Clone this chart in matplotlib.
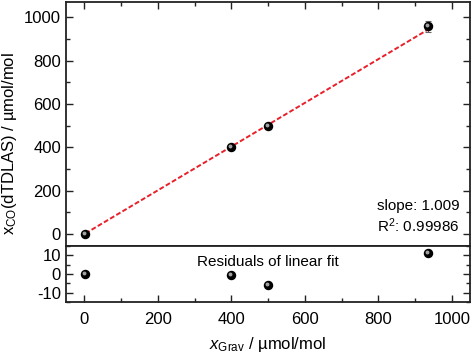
import matplotlib
matplotlib.use("Agg")
import matplotlib.pyplot as plt
import numpy as np
from matplotlib.ticker import MultipleLocator

plt.rcParams['font.family'] = ['Liberation Sans', 'DejaVu Sans']
plt.rcParams['mathtext.fontset'] = 'custom'
plt.rcParams['mathtext.rm'] = 'Liberation Sans'
plt.rcParams['mathtext.it'] = 'Liberation Sans:italic'
plt.rcParams['axes.unicode_minus'] = False

# data
x_grav = [3, 400, 500, 935]
x_tdlas = [2, 403, 500, 958]
y_err = [0, 0, 0, 26]
residuals = [0, -0.3, -5.8, 11.5]
slope = 1.009
intercept = 0.0
fit_x = [3, 935]

fig = plt.figure(figsize=(4.74, 3.55), dpi=100)
ax = fig.add_axes([0.139, 0.307, 0.853, 0.688])
axr = fig.add_axes([0.139, 0.149, 0.853, 0.158], sharex=ax)

fit_y = [slope * v + intercept for v in fit_x]
ax.plot(fit_x, fit_y, color='#e8202a', ls=(0, (2.5, 1.2)), lw=1.4, zorder=2)
ax.errorbar(x_grav, x_tdlas, yerr=y_err, fmt='none', ecolor='#666666',
            elinewidth=0.8, capsize=2.5, capthick=0.8, zorder=3)
ax.plot(x_grav, x_tdlas, 'o', color='black', ms=5.8, zorder=4)
ax.plot(np.array(x_grav) - 3, np.array(x_tdlas) + 5, 'o', color='#a0a0a0', ms=1.8, zorder=5)

axr.plot(x_grav, residuals, 'o', color='black', ms=5.8, zorder=4)
axr.plot(np.array(x_grav) - 3, np.array(residuals) + 0.5, 'o', color='#a0a0a0', ms=1.8, zorder=5)

ax.set_xlim(-50, 1050)
ax.set_ylim(-55, 1072)
axr.set_ylim(-15, 15)

ax.yaxis.set_major_locator(MultipleLocator(200))
ax.yaxis.set_minor_locator(MultipleLocator(100))
ax.xaxis.set_major_locator(MultipleLocator(200))
ax.xaxis.set_minor_locator(MultipleLocator(100))
axr.yaxis.set_major_locator(MultipleLocator(10))
axr.yaxis.set_minor_locator(MultipleLocator(5))

for a in (ax, axr):
    for s in a.spines.values():
        s.set_linewidth(1.3)
        s.set_color('#222222')
    a.tick_params(which='both', direction='in', labelsize=12, width=1.0, color='#222222')
    a.tick_params(which='major', length=5)
    a.tick_params(which='minor', length=3)

ax.tick_params(which='both', top=True, right=True, bottom=False, labelbottom=False)
axr.tick_params(which='both', top=False, right=True, bottom=True)
axr.tick_params(axis='x', pad=7)

ax.set_ylabel(r'x$_{\mathrm{CO}}$(dTDLAS) / µmol/mol', fontsize=12, labelpad=4)
axr.set_xlabel(r'$x_{\mathrm{Grav}}$ / µmol/mol', fontsize=12, labelpad=6)
ax.yaxis.set_label_coords(-0.115, 0.42)

ax.text(0.769, 0.165, 'slope: 1.009', transform=ax.transAxes, fontsize=11, va='center')
ax.text(0.769, 0.085, r'R$^2$: 0.99986', transform=ax.transAxes, fontsize=11, va='center')
axr.text(0.50, 0.72, 'Residuals of linear fit', transform=axr.transAxes,
         fontsize=11, ha='center', va='center')

fig.savefig('out.png', dpi=100)
